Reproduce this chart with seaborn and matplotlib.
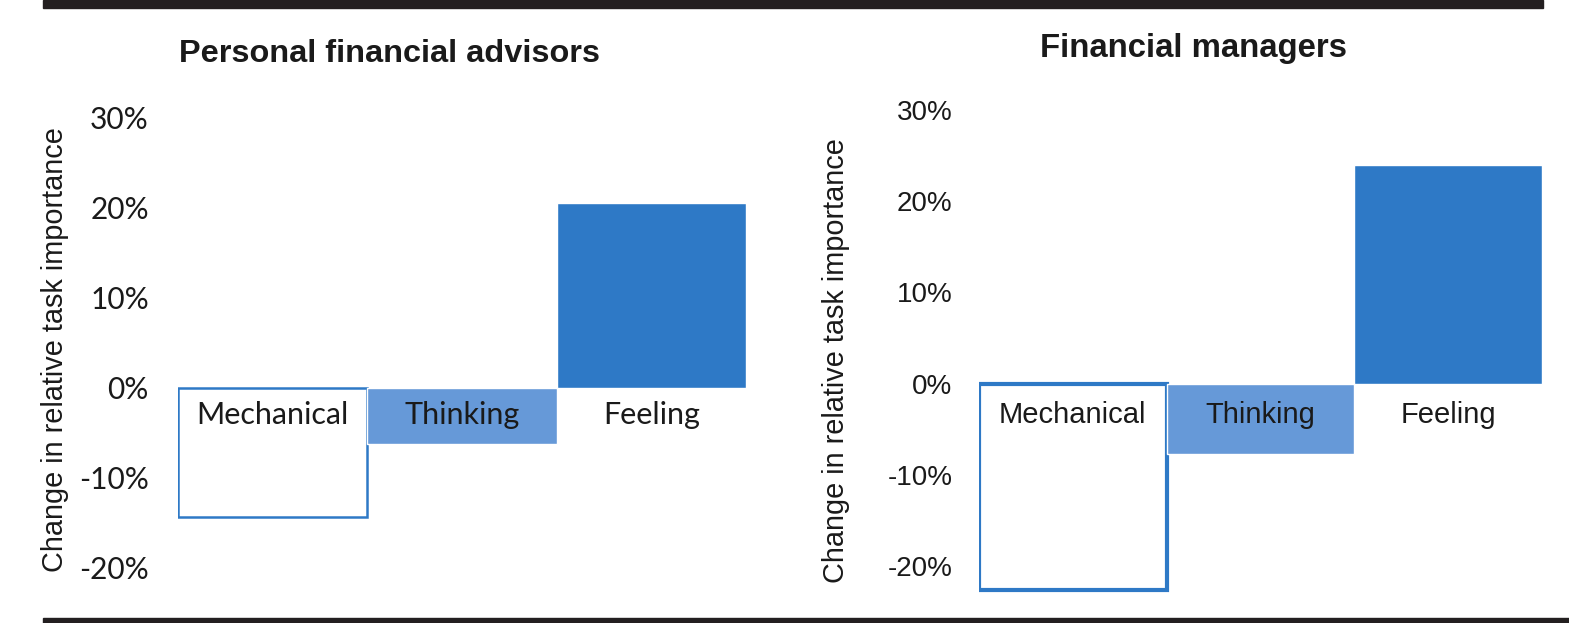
import numpy as np
import pandas as pd
import matplotlib.pyplot as plt
from matplotlib.patches import Rectangle
import seaborn as sns

# data
categories = ["Mechanical", "Thinking", "Feeling"]
advisors_change = [-14.4, -6.2, 20.5]
managers_change = [-22.6, -7.7, 24.0]
tick_values = [-20, -10, 0, 10, 20, 30]
tick_labels = ["-20%", "-10%", "0%", "10%", "20%", "30%"]

dark_blue = "#2E79C6"
light_blue = "#6699D8"
text_col = "#1a1a1a"

sns.set_theme(style="white")
plt.rcParams['font.family'] = ['Liberation Sans', 'DejaVu Sans']

W, H = 1569, 623
fig = plt.figure(figsize=(W / 100, H / 100), dpi=100)


def px_axes(x0, x1, y_top, y_bot):
    return fig.add_axes([x0 / W, 1 - y_bot / H, (x1 - x0) / W, (y_bot - y_top) / H])


def draw_panel(ax, values, ylim, edge_lw, label_y, font, tick_size, cat_size, pad):
    df = pd.DataFrame({"category": categories, "change": values})
    sns.barplot(data=df, x="category", y="change", hue="category",
                palette=["white", light_blue, dark_blue], width=1.0,
                legend=False, ax=ax, saturation=1)
    mech = ax.patches[0]
    mech.set_edgecolor(dark_blue)
    mech.set_linewidth(edge_lw)
    mech.set_facecolor("white")
    ax.set_xlim(-0.5, 2.5)
    ax.set_ylim(*ylim)
    ax.set_yticks(tick_values)
    ax.set_yticklabels(tick_labels, fontsize=tick_size, color=text_col, family=font)
    ax.tick_params(axis='y', length=0, pad=pad)
    ax.set_xticks([])
    ax.set_xlabel("")
    ax.set_ylabel("")
    for s in ax.spines.values():
        s.set_visible(False)
    ax.patch.set_alpha(0)
    for i, c in enumerate(categories):
        ax.text(i, label_y, c, ha="center", va="center", fontsize=cat_size,
                color=text_col, family=font)


ax1 = px_axes(178, 746, 99, 586)
draw_panel(ax1, advisors_change, (-22, 32), 1.8, -3.0, ['Lato', 'DejaVu Sans'], 21.5, 22, 21)

ax2 = px_axes(979, 1542, 91.8, 611.6)
draw_panel(ax2, managers_change, (-25, 32), 3.0, -3.4, ['Liberation Sans', 'DejaVu Sans'], 20, 21, 19)

# titles and axis labels
fig.text(179 / W, 1 - 54 / H, "Personal financial advisors", ha="left", va="center",
         fontsize=23.4, fontweight="bold", color=text_col)
fig.text(1040 / W, 1 - 48 / H, "Financial managers", ha="left", va="center",
         fontsize=23.7, fontweight="bold", color=text_col)
fig.text(55 / W, 1 - 350 / H, "Change in relative task importance", rotation=90,
         ha="center", va="center", fontsize=20.8, color=text_col)
fig.text(836 / W, 1 - 361 / H, "Change in relative task importance", rotation=90,
         ha="center", va="center", fontsize=20.8, color=text_col)

# black rules top and bottom
fig.patches.append(Rectangle((43 / W, 1 - 8 / H), (1543 - 43) / W, 8 / H,
                             transform=fig.transFigure, color="#231f20", zorder=5))
fig.patches.append(Rectangle((43 / W, 0), (W - 43) / W, 5 / H,
                             transform=fig.transFigure, color="#231f20", zorder=5))

fig.savefig("out.png", dpi=100)
